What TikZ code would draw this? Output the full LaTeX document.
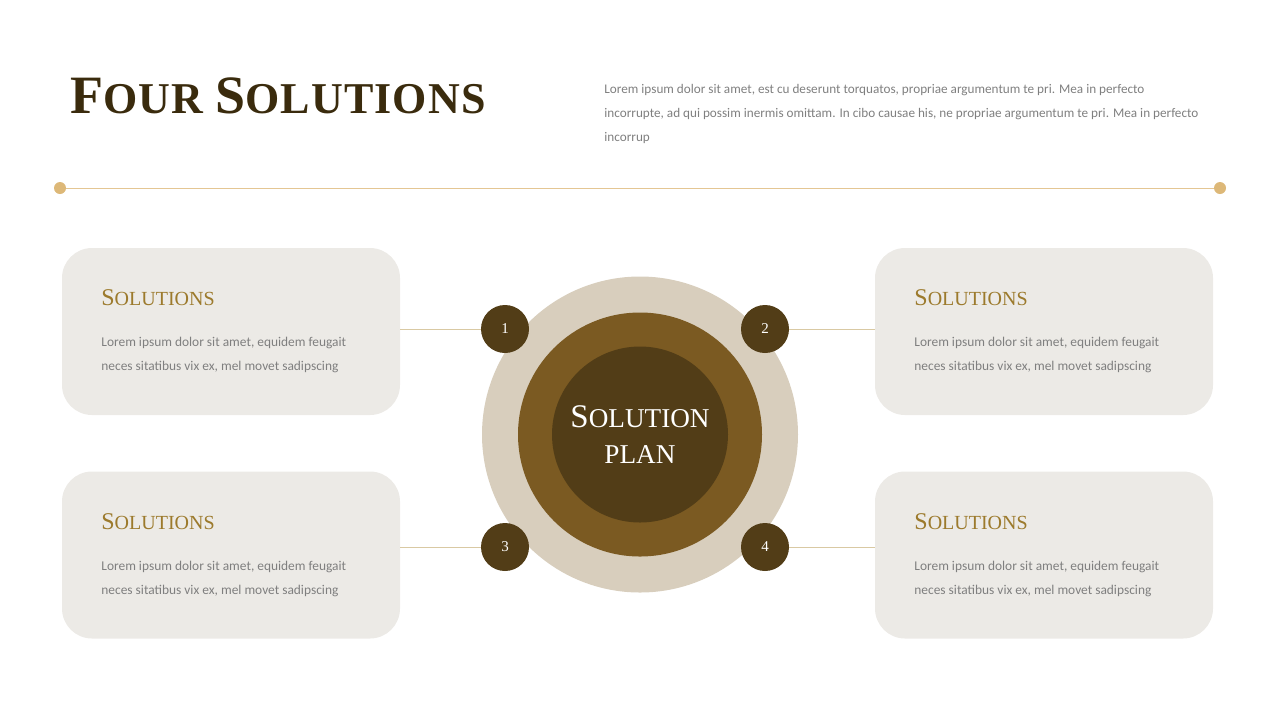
\documentclass[tikz,border=0pt]{standalone}
\usepackage{fontspec}
\setmainfont{Liberation Serif}
\newfontfamily\bodyfont{Carlito}
\newfontfamily\titlefont[LetterSpace=2.5]{Liberation Serif Bold}
\usetikzlibrary{positioning}

\definecolor{titlebrown}{HTML}{3A2B0D}
\definecolor{goldbrown}{HTML}{9C7A2C}
\definecolor{panelgray}{HTML}{ECEAE6}
\definecolor{ringlight}{HTML}{D8CEBD}
\definecolor{ringmid}{HTML}{7B5A22}
\definecolor{ringdark}{HTML}{523D17}
\definecolor{textgray}{HTML}{7F7F7F}
\definecolor{goldtan}{HTML}{DDB878}
\definecolor{linktan}{HTML}{D9C9A3}

% first letter big, rest as small capitals
\newcommand{\capsword}[4]{{\fontsize{#1}{#1}\selectfont #3}{\fontsize{#2}{#2}\selectfont #4}}
\newcommand{\bodylines}[2]{\parbox[t]{200pt}{\bodyfont\fontsize{6.7}{12}\selectfont #1\\#2}}

\begin{document}
\begin{tikzpicture}[x=0.5pt,y=-0.5pt,
  panel/.style={rectangle, rounded corners=15pt, fill=panelgray, minimum width=169pt, minimum height=83.5pt, inner sep=0},
  badge/.style={circle, fill=ringdark, minimum size=24pt, inner sep=0, text=white, font=\fontsize{7.5}{7.5}\selectfont},
  ring/.style={circle, inner sep=0},
  link/.style={draw=linktan, line width=0.5pt},
  dot/.style={circle, fill=goldtan, minimum size=6pt, inner sep=0},
  heading/.style={anchor=base west, inner sep=0, text=goldbrown},
  body/.style={anchor=base west, inner sep=0, text=textgray}]
  \useasboundingbox (0,0) rectangle (1280,720);

% title and intro
  \node[anchor=base west, inner sep=0, text=titlebrown, font=\titlefont] (title) at (70,113)
    {\capsword{27}{22}{F}{OUR\ }\capsword{27}{22}{S}{OLUTIONS}};
  \node[body] (intro) at (604,93) {\parbox[t]{320pt}{\bodyfont\fontsize{6.6}{12}\selectfont
    Lorem  ipsum dolor sit amet, est cu deserunt torquatos, propriae argumentum  te pri. Mea in perfecto\\
    incorrupte, ad qui possim inermis omittam. In cibo causae his, ne propriae argumentum te pri. Mea in perfecto\\
    incorrup}};

% top rule
  \node[dot] (dotL) at (60,188) {};
  \node[dot] (dotR) at (1220,188) {};
  \draw[draw=goldtan!80!white, line width=0.5pt] (dotL) -- (dotR);

% the four panels
  \node[panel] (box1) at (231,331.5) {};
  \node[panel] (box2) at (1044,331.5) {};
  \node[panel] (box3) at (231,555) {};
  \node[panel] (box4) at (1044,555) {};

  \node[heading] (head1) at (101,305) {\capsword{12}{10}{S}{OLUTIONS}};
  \node[heading] (head2) at (914,305) {\capsword{12}{10}{S}{OLUTIONS}};
  \node[heading] (head3) at (101,529) {\capsword{12}{10}{S}{OLUTIONS}};
  \node[heading] (head4) at (914,529) {\capsword{12}{10}{S}{OLUTIONS}};

  \node[body] (text1) at (101,346) {\bodylines{Lorem  ipsum dolor sit amet, equidem feugait}{neces sitatibus vix ex, mel movet  sadipscing}};
  \node[body] (text2) at (914,346) {\bodylines{Lorem  ipsum dolor sit amet, equidem feugait}{neces sitatibus vix ex, mel movet  sadipscing}};
  \node[body] (text3) at (101,570) {\bodylines{Lorem  ipsum dolor sit amet, equidem feugait}{neces sitatibus vix ex, mel movet  sadipscing}};
  \node[body] (text4) at (914,570) {\bodylines{Lorem  ipsum dolor sit amet, equidem feugait}{neces sitatibus vix ex, mel movet  sadipscing}};

% central rings
  \node[ring, fill=ringlight, minimum size=158pt] (outer) at (640,434.5) {};
  \node[ring, fill=ringmid, minimum size=122pt] (middle) at (outer) {};
  \node[ring, fill=ringdark, minimum size=88pt] (inner) at (outer) {};
  \node[anchor=base, inner sep=0, text=white] (plan) at (640,427)
    {\parbox[t]{100pt}{\centering\fontsize{16.5}{18}\selectfont
     \capsword{16.5}{13.6}{S}{OLUTION}\\{\fontsize{13.6}{13.6}\selectfont PLAN}}};

% numbered badges
  \node[badge] (num1) at (505,329) {1};
  \node[badge] (num2) at (765,329) {2};
  \node[badge] (num3) at (505,547) {3};
  \node[badge] (num4) at (765,547) {4};

% links to the panels
  \draw[link] (num1) -- (num1 -| box1.east);
  \draw[link] (num2) -- (num2 -| box2.west);
  \draw[link] (num3) -- (num3 -| box3.east);
  \draw[link] (num4) -- (num4 -| box4.west);
\end{tikzpicture}
\end{document}
